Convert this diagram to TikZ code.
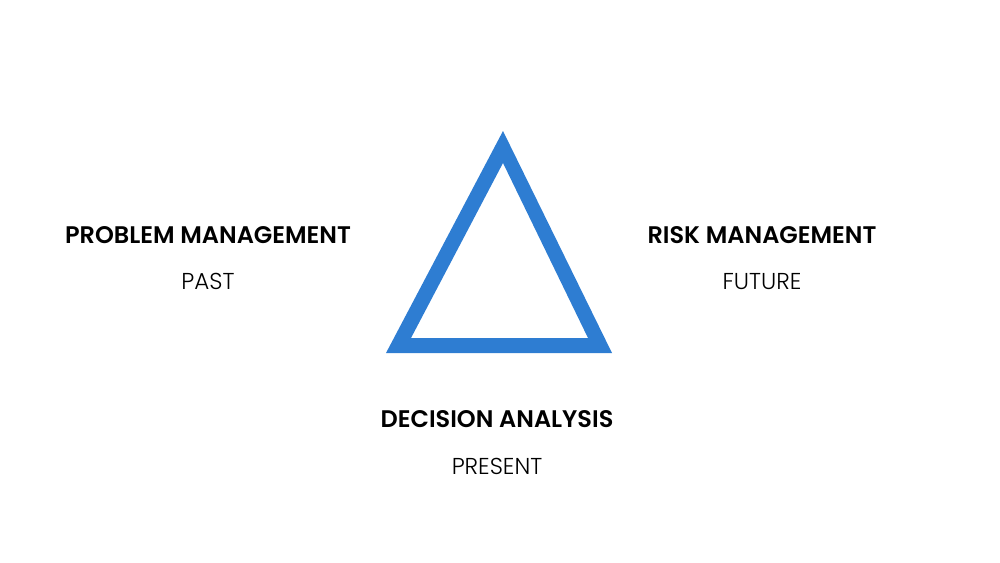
\documentclass[tikz,border=0pt]{standalone}
\usepackage{fontspec}
\setmainfont{Poppins}[UprightFont=* Light, BoldFont=* SemiBold]
\definecolor{triblue}{RGB}{46,125,210}
\begin{document}
\begin{tikzpicture}[x=1pt,y=-1pt,
  title/.style={font=\fontsize{24}{28}\selectfont\bfseries, text=black, inner sep=0pt, anchor=base},
  sub/.style={font=\fontsize{23}{27}\selectfont, text=black, inner sep=0pt, anchor=base}]
\useasboundingbox (0,0) rectangle (1000,562);
\fill[triblue, even odd rule] (386,353) -- (503,131) -- (612,353) -- cycle
  (411,338) -- (503,163) -- (588,338) -- cycle;
\node[title] (pm) at (208,243) {PROBLEM MANAGEMENT};
\node[sub] (past) at (208,289) {PAST};
\node[title] (rm) at (762,243) {RISK MANAGEMENT};
\node[sub] (fut) at (762,289) {FUTURE};
\node[title] (da) at (497,427) {DECISION ANALYSIS};
\node[sub] (pres) at (497,474) {PRESENT};
\end{tikzpicture}
\end{document}
